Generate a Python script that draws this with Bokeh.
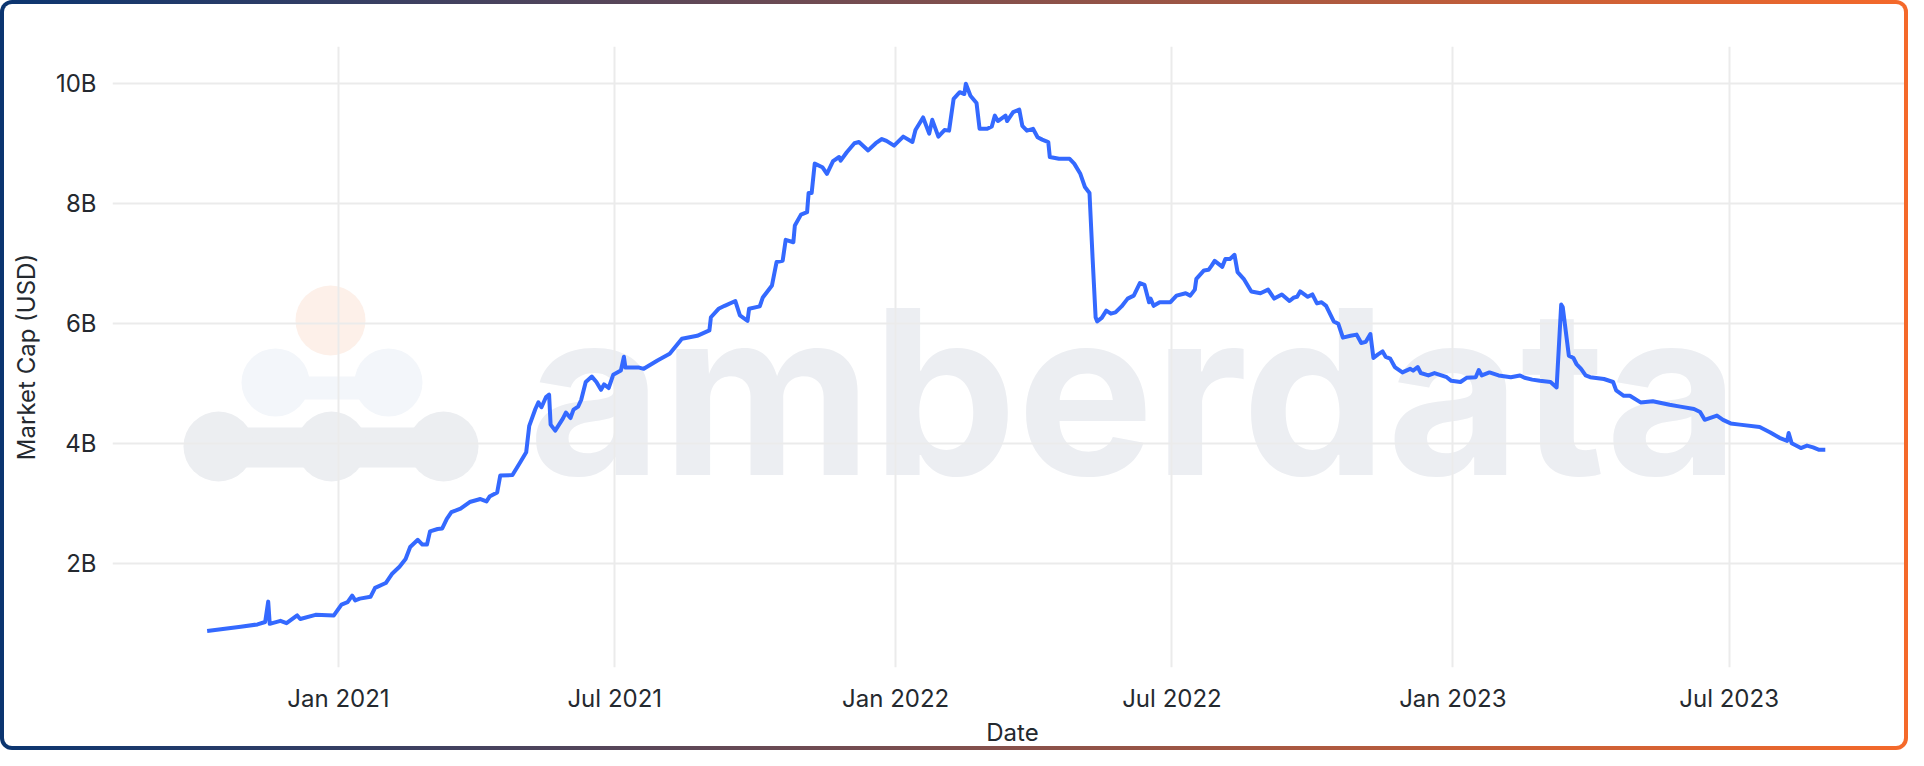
import pandas as pd
from bokeh.plotting import figure
from bokeh.models import Range1d, FixedTicker, DatetimeTickFormatter, Label
from bokeh.embed import file_html
from bokeh.resources import INLINE

# ---- data ----
dates = [
    "2020-10-07", "2020-10-29", "2020-11-09", "2020-11-14", "2020-11-16", "2020-11-17",
    "2020-11-24", "2020-11-28", "2020-12-05", "2020-12-07", "2020-12-17", "2020-12-29",
    "2021-01-03", "2021-01-07", "2021-01-10", "2021-01-12", "2021-01-15", "2021-01-22",
    "2021-01-25", "2021-02-01", "2021-02-05", "2021-02-10", "2021-02-14", "2021-02-17",
    "2021-02-22", "2021-02-25", "2021-02-28", "2021-03-02", "2021-03-07", "2021-03-10",
    "2021-03-13", "2021-03-16", "2021-03-22", "2021-03-28", "2021-04-04", "2021-04-08",
    "2021-04-10", "2021-04-15", "2021-04-17", "2021-04-25", "2021-04-30", "2021-05-04",
    "2021-05-06", "2021-05-10", "2021-05-12", "2021-05-14", "2021-05-17", "2021-05-19",
    "2021-05-20", "2021-05-23", "2021-05-28", "2021-05-30", "2021-06-02", "2021-06-04",
    "2021-06-07", "2021-06-09", "2021-06-12", "2021-06-16", "2021-06-19", "2021-06-22",
    "2021-06-24", "2021-06-27", "2021-06-30", "2021-07-05", "2021-07-07", "2021-07-08",
    "2021-07-17", "2021-07-20", "2021-07-29", "2021-08-06", "2021-08-14", "2021-08-24",
    "2021-09-01", "2021-09-02", "2021-09-07", "2021-09-11", "2021-09-18", "2021-09-21",
    "2021-09-26", "2021-09-27", "2021-10-04", "2021-10-06", "2021-10-12", "2021-10-15",
    "2021-10-19", "2021-10-21", "2021-10-26", "2021-10-27", "2021-10-31", "2021-11-04",
    "2021-11-05", "2021-11-07", "2021-11-09", "2021-11-14", "2021-11-17", "2021-11-21",
    "2021-11-25", "2021-11-26", "2021-11-30", "2021-12-05", "2021-12-08", "2021-12-14",
    "2021-12-19", "2021-12-23", "2021-12-26", "2021-12-31", "2022-01-06", "2022-01-12",
    "2022-01-14", "2022-01-19", "2022-01-23", "2022-01-25", "2022-01-29", "2022-02-02",
    "2022-02-05", "2022-02-08", "2022-02-12", "2022-02-15", "2022-02-16", "2022-02-19",
    "2022-02-23", "2022-02-25", "2022-03-02", "2022-03-05", "2022-03-07", "2022-03-09",
    "2022-03-14", "2022-03-15", "2022-03-19", "2022-03-23", "2022-03-25", "2022-03-28",
    "2022-04-01", "2022-04-04", "2022-04-07", "2022-04-11", "2022-04-12", "2022-04-18",
    "2022-04-25", "2022-04-28", "2022-05-02", "2022-05-05", "2022-05-08", "2022-05-10",
    "2022-05-12", "2022-05-13", "2022-05-16", "2022-05-19", "2022-05-22", "2022-05-25",
    "2022-05-29", "2022-06-02", "2022-06-06", "2022-06-10", "2022-06-13", "2022-06-16",
    "2022-06-17", "2022-06-19", "2022-06-23", "2022-06-30", "2022-07-04", "2022-07-10",
    "2022-07-13", "2022-07-16", "2022-07-17", "2022-07-22", "2022-07-25", "2022-07-27",
    "2022-07-29", "2022-08-03", "2022-08-05", "2022-08-08", "2022-08-11", "2022-08-13",
    "2022-08-17", "2022-08-22", "2022-08-28", "2022-09-02", "2022-09-06", "2022-09-11",
    "2022-09-16", "2022-09-19", "2022-09-21", "2022-09-23", "2022-09-28", "2022-10-01",
    "2022-10-04", "2022-10-07", "2022-10-10", "2022-10-15", "2022-10-18", "2022-10-21",
    "2022-10-26", "2022-10-30", "2022-11-02", "2022-11-05", "2022-11-08", "2022-11-10",
    "2022-11-13", "2022-11-16", "2022-11-18", "2022-11-21", "2022-11-24", "2022-11-29",
    "2022-12-04", "2022-12-06", "2022-12-09", "2022-12-11", "2022-12-16", "2022-12-20",
    "2022-12-28", "2022-12-31", "2023-01-06", "2023-01-10", "2023-01-16", "2023-01-18",
    "2023-01-20", "2023-01-25", "2023-01-31", "2023-02-08", "2023-02-14", "2023-02-17",
    "2023-02-22", "2023-02-27", "2023-03-06", "2023-03-10", "2023-03-13", "2023-03-14",
    "2023-03-18", "2023-03-21", "2023-03-23", "2023-03-26", "2023-03-29", "2023-04-01",
    "2023-04-10", "2023-04-16", "2023-04-18", "2023-04-23", "2023-04-27", "2023-05-04",
    "2023-05-12", "2023-05-23", "2023-05-30", "2023-06-08", "2023-06-12", "2023-06-15",
    "2023-06-23", "2023-06-27", "2023-07-02", "2023-07-08", "2023-07-21", "2023-07-28",
    "2023-08-03", "2023-08-08", "2023-08-09", "2023-08-11", "2023-08-17", "2023-08-21",
    "2023-08-25", "2023-08-29", "2023-09-02",
]
market_cap_bn = [
    0.87, 0.94, 0.98, 1.02, 1.36, 0.99,
    1.04, 1.00, 1.13, 1.07, 1.14, 1.13,
    1.31, 1.35, 1.46, 1.38, 1.41, 1.44,
    1.59, 1.67, 1.82, 1.94, 2.07, 2.27,
    2.39, 2.31, 2.31, 2.53, 2.57, 2.58,
    2.74, 2.85, 2.91, 3.02, 3.07, 3.03,
    3.11, 3.18, 3.46, 3.47, 3.68, 3.85,
    4.29, 4.57, 4.68, 4.60, 4.77, 4.81,
    4.31, 4.21, 4.41, 4.51, 4.42, 4.56,
    4.61, 4.72, 5.02, 5.11, 5.02, 4.89,
    4.98, 4.92, 5.14, 5.21, 5.44, 5.26,
    5.26, 5.24, 5.38, 5.49, 5.74, 5.79,
    5.88, 6.10, 6.24, 6.29, 6.37, 6.13,
    6.04, 6.24, 6.28, 6.43, 6.63, 7.02,
    7.04, 7.39, 7.35, 7.63, 7.81, 7.85,
    8.17, 8.17, 8.66, 8.60, 8.49, 8.70,
    8.77, 8.71, 8.85, 9.00, 9.02, 8.88,
    9.00, 9.07, 9.04, 8.96, 9.11, 9.02,
    9.22, 9.43, 9.16, 9.39, 9.11, 9.22,
    9.21, 9.74, 9.85, 9.82, 9.99, 9.79,
    9.67, 9.24, 9.24, 9.28, 9.46, 9.37,
    9.46, 9.37, 9.52, 9.56, 9.29, 9.21,
    9.24, 9.10, 9.06, 9.02, 8.77, 8.74,
    8.74, 8.66, 8.49, 8.27, 8.17, 7.10,
    6.10, 6.03, 6.09, 6.21, 6.16, 6.18,
    6.28, 6.41, 6.46, 6.67, 6.64, 6.35,
    6.41, 6.29, 6.35, 6.35, 6.46, 6.50,
    6.46, 6.56, 6.74, 6.88, 6.89, 6.96,
    7.04, 6.94, 7.07, 7.07, 7.14, 6.85,
    6.74, 6.53, 6.50, 6.56, 6.41, 6.48,
    6.37, 6.43, 6.44, 6.53, 6.44, 6.48,
    6.33, 6.35, 6.29, 6.03, 5.99, 5.76,
    5.79, 5.81, 5.67, 5.69, 5.82, 5.42,
    5.48, 5.53, 5.44, 5.41, 5.27, 5.18,
    5.24, 5.21, 5.27, 5.17, 5.13, 5.17,
    5.10, 5.04, 5.02, 5.09, 5.10, 5.22,
    5.13, 5.18, 5.13, 5.10, 5.13, 5.09,
    5.06, 5.04, 5.02, 4.93, 6.31, 6.27,
    5.46, 5.42, 5.32, 5.24, 5.13, 5.10,
    5.07, 5.02, 4.88, 4.79, 4.79, 4.68,
    4.70, 4.64, 4.61, 4.57, 4.52, 4.39,
    4.46, 4.39, 4.33, 4.31, 4.27, 4.18,
    4.09, 4.04, 4.17, 4.00, 3.92, 3.96,
    3.93, 3.89, 3.89,
]
x_tick_dates = ["2021-01-01", "2021-07-01", "2022-01-01", "2022-07-01", "2023-01-01", "2023-07-01"]
y_ticks_bn = [2, 4, 6, 8, 10]
y_tick_labels = ["2B", "4B", "6B", "8B", "10B"]

x = pd.to_datetime(dates)
FONT = "Inter"
TXT = "#24292f"

x_start = pd.Timestamp("2020-08-06")
x_end = pd.Timestamp("2023-10-29 03:00")
y_start, y_end = 0.262, 10.612

p = figure(width=1900, height=742, x_axis_type="datetime",
           x_range=Range1d(x_start, x_end), y_range=Range1d(y_start, y_end),
           output_backend="svg", toolbar_location=None,
           min_border_left=108, min_border_right=0, min_border_top=42, min_border_bottom=87)
p.styles = {
    "box-sizing": "content-box",
    "border": "4px solid transparent",
    "border-radius": "12px",
    "background": "linear-gradient(#ffffff, #ffffff) padding-box, linear-gradient(90deg, #0b3570, #f5692a) border-box",
    "overflow": "hidden",
}
p.border_fill_color = None
p.background_fill_color = None
p.outline_line_color = None

# ---- watermark (page-pixel layout helpers, decoration only) ----
frame_left_px, frame_w_px = 112.0, 1800.0
frame_top_px, frame_h_px = 46.0, 621.0
def wx(px):
    return x_start + (x_end - x_start) * ((px - frame_left_px) / frame_w_px)
def wy(py):
    return y_end - (y_end - y_start) * ((py - frame_top_px) / frame_h_px)

gray, blue, orange = "#eceef1", "#f3f6fa", "#fdf0e9"
p.quad(left=[wx(218)], right=[wx(443)], top=[wy(427)], bottom=[wy(467)],
       fill_color=gray, line_color=None, level="image")
p.circle(x=[wx(218), wx(331), wx(443)], y=[wy(446)] * 3, radius=35, radius_units="screen",
         fill_color=gray, line_color=None, level="image")
p.quad(left=[wx(275)], right=[wx(388)], top=[wy(376)], bottom=[wy(399)],
       fill_color=blue, line_color=None, level="image")
p.circle(x=[wx(275), wx(388)], y=[wy(382)] * 2, radius=34, radius_units="screen",
         fill_color=blue, line_color=None, level="image")
p.circle(x=[wx(330)], y=[wy(320)], radius=35, radius_units="screen",
         fill_color=orange, line_color=None, level="image")
wm = Label(x=wx(528), y=wy(476 - 86), text="amberdata", text_font=FONT, text_font_style="bold",
           text_font_size="230px", text_color="#eceef2", text_baseline="middle",
           text_align="left", level="image")
p.add_layout(wm)

# ---- data line ----
p.line(x, market_cap_bn, line_color="#3469ff", line_width=4, line_join="round")

# ---- axes & grid ----
p.xaxis.ticker = FixedTicker(ticks=[pd.Timestamp(d).value / 1e6 for d in x_tick_dates])
p.xaxis.formatter = DatetimeTickFormatter(years="%b %Y", months="%b %Y", days="%b %Y",
                                          hours="%b %Y", minutes="%b %Y")
p.yaxis.ticker = FixedTicker(ticks=y_ticks_bn)
p.yaxis.major_label_overrides = {t: l for t, l in zip(y_ticks_bn, y_tick_labels)}

for ax in (p.xaxis, p.yaxis):
    ax.axis_line_color = None
    ax.major_tick_line_color = None
    ax.minor_tick_line_color = None
    ax.major_tick_out = 0
    ax.major_tick_in = 0
    ax.major_label_text_font = FONT
    ax.major_label_text_font_size = "24px"
    ax.major_label_text_color = TXT
    ax.axis_label_text_font = FONT
    ax.axis_label_text_font_style = "normal"
    ax.axis_label_text_color = TXT
    ax.axis_label_text_font_size = "24px"

p.xaxis.axis_label = "Date"
p.yaxis.axis_label = "Market Cap (USD)"
p.xaxis.major_label_standoff = 16
p.yaxis.major_label_standoff = 16
p.xaxis.axis_label_standoff = 2
p.yaxis.axis_label_standoff = 12

p.grid.grid_line_color = "#ebebeb"
p.grid.grid_line_width = 2

open("out.html", "w").write(file_html(p, INLINE))
